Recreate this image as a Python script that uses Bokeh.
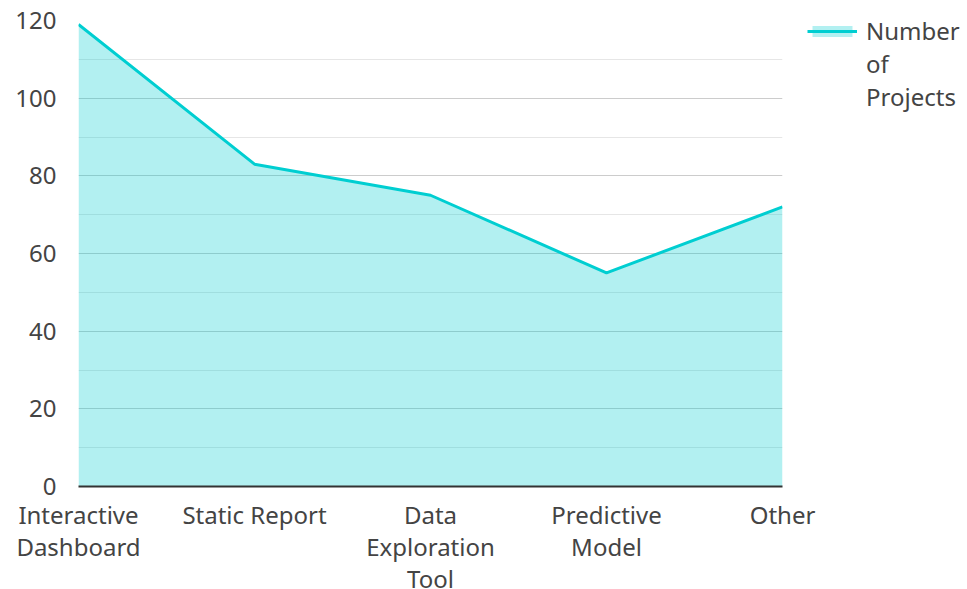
from bokeh.plotting import figure
from bokeh.models import FixedTicker, Legend, LegendItem, Range1d
from bokeh.embed import file_html
from bokeh.resources import INLINE

categories = ["Interactive\nDashboard", "Static Report", "Data\nExploration\nTool", "Predictive\nModel", "Other"]
projects = [119, 83, 75, 55, 72]
y_ticks = [0, 20, 40, 60, 80, 100, 120]
y_minor = [10, 30, 50, 70, 90, 110]
series_label_lines = ["Number", "of\nProjects"]

xs = list(range(len(categories)))
FONT = "Noto Sans"
TXT = "#444444"
COLOR = "#00CED1"

p = figure(frame_width=704, frame_height=466, output_backend="svg", toolbar_location=None,
           x_range=Range1d(0, len(categories) - 1), y_range=Range1d(0, 120),
           min_border_left=78, min_border_top=20, min_border_right=180, min_border_bottom=0)
p.outline_line_color = None

area = p.varea(x=xs, y1=0, y2=projects, fill_color=COLOR, fill_alpha=0.3)
line = p.line(x=xs, y=projects, line_color=COLOR, line_width=3)
blank = p.line(x=xs[:1], y=projects[:1], line_alpha=0)

p.xaxis.ticker = FixedTicker(ticks=xs)
p.xaxis.major_label_overrides = {i: c for i, c in zip(xs, categories)}
p.yaxis.ticker = FixedTicker(ticks=y_ticks, minor_ticks=y_minor)

for ax in (p.xaxis[0], p.yaxis[0]):
    ax.major_label_text_font = FONT
    ax.major_label_text_font_size = "24px"
    ax.major_label_text_color = TXT
    ax.major_tick_line_color = None
    ax.minor_tick_line_color = None
p.xaxis.axis_line_color = "#333333"
p.xaxis.axis_line_width = 2
p.xaxis.major_label_standoff = 5
p.xaxis.major_label_text_line_height = 0.97
p.yaxis.axis_line_color = None
p.yaxis.major_label_standoff = 16

p.xgrid.grid_line_color = None
p.ygrid.ticker = p.yaxis.ticker
p.ygrid.grid_line_color = "#cccccc"
p.ygrid.minor_grid_line_color = "#e6e6e6"

legend = Legend(items=[LegendItem(label=series_label_lines[0], renderers=[area, line]),
                       LegendItem(label=series_label_lines[1], renderers=[blank])],
                location=(25, 373), margin=0, padding=0, spacing=0, border_line_color=None,
                background_fill_alpha=0,
                glyph_width=50, glyph_height=14, label_standoff=9,
                label_text_font=FONT, label_text_font_size="24px", label_text_color=TXT,
                label_text_line_height=1.0)
p.add_layout(legend, "right")

html = file_html(p, INLINE)
html = html.replace("<head>", "<head><style>html,body{overflow:hidden}</style>", 1)
open("out.html", "w").write(html)
